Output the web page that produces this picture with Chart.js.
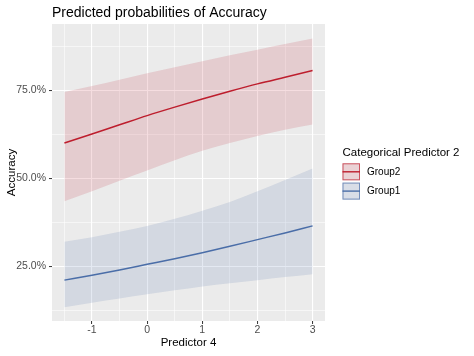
<!DOCTYPE html>
<html>
<head>
<meta charset="utf-8">
<script src="https://cdn.jsdelivr.net/npm/chart.js@4/dist/chart.umd.min.js"></script>
<style>
  html, body { margin: 0; padding: 0; background: #ffffff; }
  #wrap { width: 474px; height: 356px; position: relative; }
</style>
</head>
<body>
<div id="wrap"><canvas id="c" width="474" height="356"></canvas></div>
<script>
// ---- data ----
const xValues = [-1.5, -1, -0.5, 0, 0.5, 1, 1.5, 2, 2.5, 3];

const group2Pred  = [60.0, 62.6, 65.2, 67.8, 70.2, 72.5, 74.7, 76.8, 78.7, 80.6];
const group2Upper = [74.5, 76.2, 78.0, 79.8, 81.5, 83.2, 84.9, 86.5, 88.1, 89.7];
const group2Lower = [43.5, 46.3, 49.3, 52.2, 55.1, 57.8, 60.0, 62.0, 63.8, 65.3];

const group1Pred  = [21.1, 22.5, 24.0, 25.6, 27.2, 28.9, 30.7, 32.6, 34.5, 36.5];
const group1Upper = [32.0, 33.3, 34.8, 36.5, 38.5, 40.8, 43.3, 46.3, 49.5, 52.8];
const group1Lower = [13.4, 14.7, 15.9, 17.1, 18.2, 19.3, 20.2, 21.1, 22.0, 22.8];

const xTickValues = [-1.5, -1, -0.5, 0, 0.5, 1, 1.5, 2, 2.5, 3];
const xTickLabels = ['', '-1', '', '0', '', '1', '', '2', '', '3'];
const yTickValues = [12.5, 25, 37.5, 50, 62.5, 75, 87.5];
const yTickLabels = ['', '25.0%', '', '50.0%', '', '75.0%', ''];

const seriesNames = ['Group2', 'Group1'];
const titleText = 'Predicted probabilities of Accuracy';
const xTitle = 'Predictor 4';
const yTitle = 'Accuracy';
const legendTitle = 'Categorical Predictor 2';

// ---- styles ----
const redLine = '#BE1E2D';
const blueLine = '#4A6EA8';
const redFill = 'rgba(190,30,45,0.15)';
const blueFill = 'rgba(74,110,168,0.15)';
const FONT = '"Liberation Sans", Arial, Helvetica, sans-serif';

const pts = (ys) => xValues.map((x, i) => ({ x: x, y: ys[i] }));

const bgPlugin = {
  id: 'panelBg',
  beforeDraw(chart) {
    const { ctx, chartArea: a } = chart;
    ctx.save();
    ctx.fillStyle = '#ffffff';
    ctx.fillRect(0, 0, chart.width, chart.height);
    ctx.fillStyle = '#EBEBEB';
    ctx.fillRect(a.left, a.top, a.right - a.left, a.bottom - a.top);
    ctx.restore();
  },
  afterDraw(chart) {
    const { ctx, chartArea: a } = chart;
    ctx.save();
    // main title
    ctx.fillStyle = '#000000';
    ctx.font = '14px ' + FONT;
    ctx.textAlign = 'left';
    ctx.textBaseline = 'alphabetic';
    ctx.fillText(titleText, a.left, 16.7);

    // legend
    const lx = 342.5;
    ctx.font = '11.5px ' + FONT;
    ctx.textBaseline = 'middle';
    ctx.fillText(legendTitle, lx, 152.5);
    const items = [
      { name: seriesNames[0], line: redLine, fill: redFill, y: 163.3 },
      { name: seriesNames[1], line: blueLine, fill: blueFill, y: 182.6 }
    ];
    items.forEach(it => {
      const w = 17.5, h = 17;
      ctx.fillStyle = '#F2F2F2';
      ctx.fillRect(lx, it.y, w, h);
      ctx.fillStyle = it.fill;
      ctx.fillRect(lx, it.y, w, h);
      ctx.strokeStyle = it.line;
      ctx.globalAlpha = 0.7;
      ctx.lineWidth = 1;
      ctx.strokeRect(lx + 0.5, it.y + 0.5, w - 1, h - 1);
      ctx.globalAlpha = 1;
      ctx.lineWidth = 1.4;
      ctx.beginPath();
      ctx.moveTo(lx, it.y + h / 2);
      ctx.lineTo(lx + w, it.y + h / 2);
      ctx.stroke();
      ctx.fillStyle = '#000000';
      ctx.font = '10px ' + FONT;
      ctx.fillText(it.name, 367, it.y + h / 2);
    });
    ctx.restore();
  }
};

new Chart(document.getElementById('c'), {
  type: 'line',
  data: {
    datasets: [
      { label: 'g2u', data: pts(group2Upper), borderWidth: 0, pointRadius: 0,
        backgroundColor: redFill, fill: '+1', cubicInterpolationMode: 'monotone' },
      { label: 'g2l', data: pts(group2Lower), borderWidth: 0, pointRadius: 0,
        fill: false, cubicInterpolationMode: 'monotone' },
      { label: 'g1u', data: pts(group1Upper), borderWidth: 0, pointRadius: 0,
        backgroundColor: blueFill, fill: '+1', cubicInterpolationMode: 'monotone' },
      { label: 'g1l', data: pts(group1Lower), borderWidth: 0, pointRadius: 0,
        fill: false, cubicInterpolationMode: 'monotone' },
      { label: seriesNames[0], data: pts(group2Pred), borderColor: redLine, borderWidth: 1.5,
        pointRadius: 0, fill: false, cubicInterpolationMode: 'monotone' },
      { label: seriesNames[1], data: pts(group1Pred), borderColor: blueLine, borderWidth: 1.5,
        pointRadius: 0, fill: false, cubicInterpolationMode: 'monotone' }
    ]
  },
  options: {
    responsive: false,
    animation: false,
    events: [],
    layout: { padding: { left: 0, top: 24, right: 149, bottom: 0 } },
    plugins: { legend: { display: false }, title: { display: false }, tooltip: { enabled: false } },
    scales: {
      x: {
        type: 'linear',
        min: -1.725, max: 3.225,
        afterFit(s) { s.height = 35; },
        afterBuildTicks(s) { s.ticks = xTickValues.map(v => ({ value: v })); },
        border: { display: false },
        grid: {
          color: '#ffffff',
          lineWidth: (c) => (c.tick && Number.isInteger(c.tick.value)) ? 1.1 : 0.55,
          tickLength: 3,
          tickColor: (c) => (c.tick && Number.isInteger(c.tick.value)) ? '#333333' : 'rgba(0,0,0,0)',
          tickWidth: 1
        },
        ticks: {
          autoSkip: false, maxRotation: 0, padding: 0,
          color: '#4D4D4D', font: { family: FONT, size: 10.5 },
          callback: (v, i) => xTickLabels[xTickValues.indexOf(v)] || ''
        },
        title: { display: true, text: xTitle, color: '#000000',
          font: { family: FONT, size: 11.5 }, padding: { top: 0, bottom: 6.4 } }
      },
      y: {
        type: 'linear',
        min: 9.5, max: 93.8,
        afterFit(s) { s.width = 52; },
        afterBuildTicks(s) { s.ticks = yTickValues.map(v => ({ value: v })); },
        border: { display: false },
        grid: {
          color: '#ffffff',
          lineWidth: (c) => (c.tick && c.tick.value % 25 === 0) ? 1.1 : 0.55,
          tickLength: 3,
          tickColor: (c) => (c.tick && c.tick.value % 25 === 0) ? '#333333' : 'rgba(0,0,0,0)',
          tickWidth: 1
        },
        ticks: {
          autoSkip: false, padding: 3,
          color: '#4D4D4D', font: { family: FONT, size: 10.5 },
          callback: (v) => yTickLabels[yTickValues.indexOf(v)] || ''
        },
        title: { display: true, text: yTitle, color: '#000000',
          font: { family: FONT, size: 11.5 }, padding: { top: 5.4, bottom: 0 } }
      }
    }
  },
  plugins: [bgPlugin]
});
</script>
</body>
</html>
